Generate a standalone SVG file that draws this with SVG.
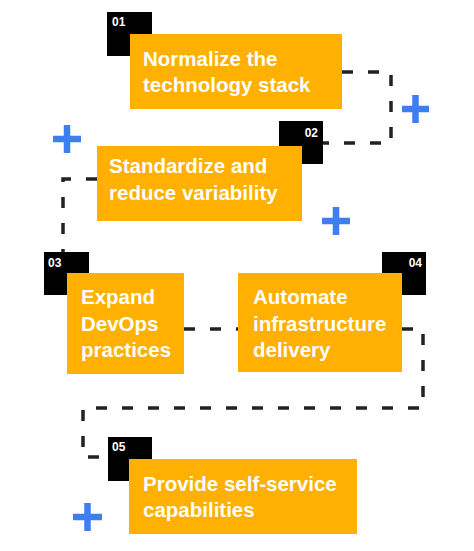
<svg xmlns="http://www.w3.org/2000/svg" width="474" height="551" viewBox="0 0 474 551">
<style>
.num{fill:#000}
.box{fill:#FFB000}
.nt{font-family:"Liberation Sans",Arial,sans-serif;font-weight:bold;font-size:12px;fill:#fff}
.lt{font-family:"Liberation Sans",Arial,sans-serif;font-weight:bold;font-size:20.5px;fill:#fff}
.dash{fill:none;stroke:#222;stroke-width:3.5;stroke-dasharray:11 15}
.plus{stroke:#3D7EF2;stroke-width:6.5;fill:none}
</style>
<rect width="474" height="551" fill="#fff"/>
<g id="connectors">
<path class="dash" d="M342 72 H391 V143 H323"/>
<path class="dash" d="M97 179 H63 V252"/>
<path class="dash" d="M184 329 H238"/>
<path class="dash" d="M402 329 H423 V408 H83 V457 H108"/>
</g>
<g id="node1">
<rect class="num" x="107" y="12" width="45" height="44"/>
<text class="nt" x="112" y="26">01</text>
<rect class="box" x="130" y="34" width="212" height="75"/>
<text class="lt" x="143" y="66">Normalize the</text>
<text class="lt" x="143" y="92">technology stack</text>
</g>
<g id="node2">
<rect class="num" x="279" y="121" width="44" height="43"/>
<text class="nt" x="318" y="137" text-anchor="end">02</text>
<rect class="box" x="97" y="146" width="205" height="75"/>
<text class="lt" x="109" y="173">Standardize and</text>
<text class="lt" x="109" y="200">reduce variability</text>
</g>
<g id="node3">
<rect class="num" x="44" y="252" width="45" height="43"/>
<text class="nt" x="48" y="267">03</text>
<rect class="box" x="67" y="273" width="117" height="101"/>
<text class="lt" x="81" y="304">Expand</text>
<text class="lt" x="81" y="331">DevOps</text>
<text class="lt" x="81" y="357">practices</text>
</g>
<g id="node4">
<rect class="num" x="382" y="252" width="44" height="43"/>
<text class="nt" x="422" y="267" text-anchor="end">04</text>
<rect class="box" x="238" y="273" width="164" height="99"/>
<text class="lt" x="253" y="304">Automate</text>
<text class="lt" x="253" y="331">infrastructure</text>
<text class="lt" x="253" y="357">delivery</text>
</g>
<g id="node5">
<rect class="num" x="108" y="437" width="44" height="44"/>
<text class="nt" x="112" y="451">05</text>
<rect class="box" x="129" y="459" width="228" height="75"/>
<text class="lt" x="143" y="491">Provide self-service</text>
<text class="lt" x="143" y="517">capabilities</text>
</g>
<g id="plusses">
<path class="plus" d="M53 139 H81 M67 125 V153"/>
<path class="plus" d="M402 109 H429 M415.5 95 V123"/>
<path class="plus" d="M322 221 H350 M336 207 V235"/>
<path class="plus" d="M73 517 H102 M87.5 503 V531"/>
</g>
</svg>
